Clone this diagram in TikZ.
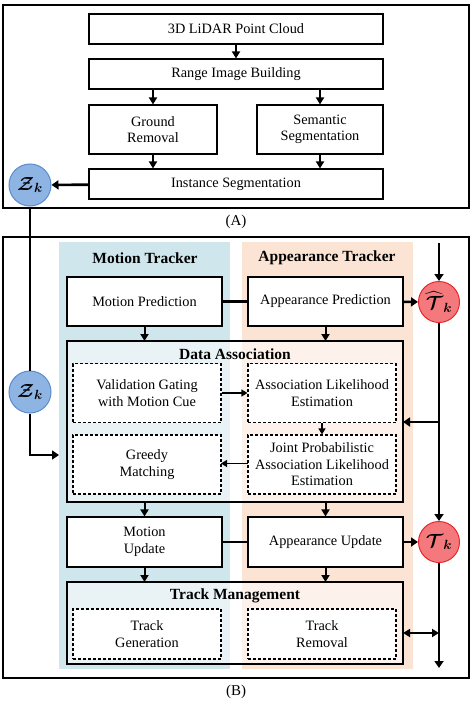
\documentclass[tikz,border=0pt]{standalone}
\usepackage{fix-cm}
\usepackage{fontspec}
\setmainfont{Liberation Serif}
\usepackage{amsmath}
\usepackage{bm}
\usetikzlibrary{arrows.meta}
\definecolor{mbg}{HTML}{CFE6EC}
\definecolor{abg}{HTML}{FBE4D3}
\definecolor{bfill}{HTML}{8EB4E3}
\definecolor{bline}{HTML}{5B8BD0}
\definecolor{rfill}{HTML}{F4797C}
\definecolor{rline}{HTML}{E8262B}
\tikzset{
  box/.style={draw, line width=1.1pt, fill=white, minimum width=#1, align=center, inner sep=0pt, font=\fontsize{14.3}{16.5}\selectfont},
  dbox/.style={draw, dashed, dash pattern=on 3pt off 2pt, line width=1.1pt, fill=white, minimum width=148pt, minimum height=59pt, align=center, inner sep=0pt, font=\fontsize{14.3}{16.5}\selectfont},
  panel/.style={draw, line width=1.2pt},
  title/.style={font=\bfseries\fontsize{15.5}{17}\selectfont, inner sep=0pt},
  captxt/.style={font=\fontsize{15}{17}\selectfont, inner sep=0pt},
  zc/.style={circle, draw=bline, fill=bfill, line width=1pt, minimum size=42pt, inner sep=0pt, font=\fontsize{19}{21}\selectfont},
  tc/.style={circle, draw=rline, fill=rfill, line width=1pt, minimum size=41pt, inner sep=0pt, font=\fontsize{19}{21}\selectfont},
  thk/.style={line width=2.6pt, -{Triangle[length=7pt,width=9pt]}},
  thkp/.style={line width=2.6pt},
  thn/.style={line width=1.1pt, -{Triangle[length=6pt,width=7pt]}},
  dn/.style={line width=2pt, -{Triangle[length=7pt,width=8pt]}},
}
\begin{document}
\begin{tikzpicture}[x=1pt,y=-1pt]
\useasboundingbox (0,0) rectangle (474,704);
% Panel A
\draw[panel] (3,5) rectangle (469,208);
\node[box=294pt, minimum height=30pt] (lidar) at (236,29) {3D LiDAR Point Cloud};
\node[box=294pt, minimum height=30pt] (range) at (236,74) {Range Image Building};
\node[box=128pt, minimum height=49pt] (ground) at (153,129.5) {Ground\\Removal};
\node[box=126pt, minimum height=49pt] (sem) at (320,129.5) {Semantic\\Segmentation};
\node[box=294pt, minimum height=30pt] (inst) at (236,184) {Instance Segmentation};
\node[zc] (zA) at (30,185) {$\bm{\mathcal{Z}_k}$};
\node[captxt] (capA) at (236,222) {(A)};
\draw[dn] (lidar) -- (range);
\draw[dn] (range.south -| ground) -- (ground);
\draw[dn] (range.south -| sem) -- (sem);
\draw[dn] (ground) -- (inst.north -| ground);
\draw[dn] (sem) -- (inst.north -| sem);
\draw[thk] (inst) -- (zA);
% Panel B
\draw[panel] (3,237) rectangle (469,678);
\fill[mbg] (59,242) rectangle (230,669);
\fill[abg] (242,242) rectangle (413,669);
\node[title] (mt) at (145,258) {Motion Tracker};
\node[title] (at) at (327,258) {Appearance Tracker};
\node[box=155pt, minimum height=49pt] (mp) at (144.5,301.5) {Motion Prediction};
\node[box=155pt, minimum height=49pt] (ap) at (325.5,301.5) {Appearance Prediction};
\draw[line width=1.1pt, fill=white, fill opacity=0.55] (67,341) rectangle (403,502);
\node[title] (da) at (235,354) {Data Association};
\node[dbox] (vg) at (147,393) {Validation Gating\\with Motion Cue};
\node[dbox] (al) at (322,393) {Association Likelihood\\Estimation};
\node[dbox] (gm) at (147,464.5) {Greedy\\Matching};
\node[dbox] (jp) at (322,464.5) {Joint Probabilistic\\Association Likelihood\\Estimation};
\node[box=155pt, minimum height=50pt] (mu) at (144.5,542) {Motion\\Update};
\node[box=155pt, minimum height=50pt] (au) at (325.5,542) {Appearance Update};
\draw[line width=1.1pt, fill=white, fill opacity=0.55] (67,582) rectangle (403,664);
\node[title] (tm) at (235,596) {Track Management};
\node[dbox, minimum height=50pt] (tg) at (147,634) {Track\\Generation};
\node[dbox, minimum height=50pt] (tr) at (322,634) {Track\\Removal};
\node[captxt] (capB) at (236,692) {(B)};
\node[zc] (zB) at (30,392) {$\bm{\mathcal{Z}_k}$};
\node[tc] (th) at (439,302) {$\bm{\widehat{\mathcal{T}}_k}$};
\node[tc] (tk) at (439,542) {$\bm{\mathcal{T}_k}$};
\coordinate (top) at (439,243);
\coordinate (bot) at (439,668);
\coordinate (zin) at (59,455);
\coordinate (daR) at (403,422);
\coordinate (vR) at (439,422);
\coordinate (tmR) at (403,633);
\coordinate (vR2) at (439,633);
\coordinate (daT1) at (144.5,341);
\coordinate (daT2) at (325.5,341);
\coordinate (daB1) at (144.5,502);
\coordinate (daB2) at (325.5,502);
\coordinate (tmT1) at (144.5,582);
\coordinate (tmT2) at (325.5,582);
\coordinate (gmR) at (221,463.5);
\coordinate (jpL) at (248,463.5);
% connectors
\draw[thkp] (zA) -- (zB);
\draw[thk] (zB.south) |- (zin);
\draw[thkp] (mp) -- (ap);
\draw[thk] (ap) -- (th);
\draw[thk] (top) -- (th);
\draw[thk] (th) -- (tk);
\draw[thk] (vR) -- (daR);
\draw[dn] (mp.south) -- (daT1);
\draw[dn] (ap.south) -- (daT2);
\draw[thn] (vg) -- (al);
\draw[thn] (al) -- (jp);
\draw[thn] (jpL) -- (gmR);
\draw[dn] (daB1) -- (mu);
\draw[dn] (daB2) -- (au);
\draw[thkp] (mu) -- (au);
\draw[thk] (au) -- (tk);
\draw[dn] (mu) -- (tmT1);
\draw[dn] (au) -- (tmT2);
\draw[thk] (tk) -- (bot);
\draw[line width=2pt, {Triangle[length=7pt,width=8pt]}-{Triangle[length=7pt,width=8pt]}] (tmR) -- (vR2);
\end{tikzpicture}
\end{document}
